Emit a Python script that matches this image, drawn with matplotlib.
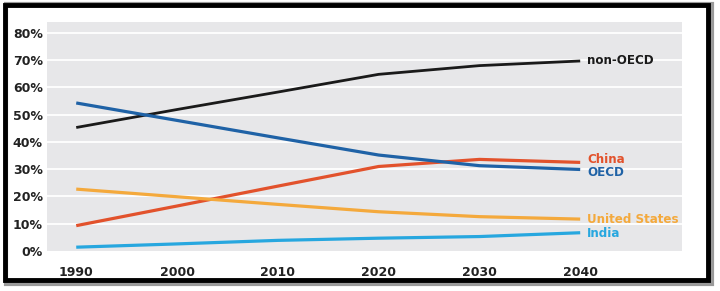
import matplotlib
matplotlib.use("Agg")
import matplotlib.pyplot as plt
from matplotlib.patches import Rectangle

# Share of global values
years = [1990, 2000, 2010, 2020, 2030, 2040]
non_oecd = [45.3, 51.9, 58.3, 64.8, 68.0, 69.7]
oecd = [54.3, 47.9, 41.5, 35.2, 31.3, 29.9]
china = [9.3, 16.5, 23.8, 31.0, 33.6, 32.5]
united_states = [22.7, 19.9, 17.1, 14.4, 12.6, 11.7]
india = [1.4, 2.6, 3.9, 4.7, 5.3, 6.7]

series_names = ["non-OECD", "China", "OECD", "United States", "India"]
series_values = [non_oecd, china, oecd, united_states, india]
series_colors = ["#1a1a1a", "#e2522c", "#1f62a6", "#f4a93c", "#27a7df"]
label_offsets = [0.3, 0.9, -1.1, 0.0, -0.1]

y_ticks = [0, 10, 20, 30, 40, 50, 60, 70, 80]
x_ticks = [1990, 2000, 2010, 2020, 2030, 2040]

fig = plt.figure(figsize=(7.2, 2.91), dpi=100)
fig.patch.set_facecolor("white")

# framed picture border with a soft shadow
fig.patches.append(Rectangle((6 / 720, 1 - 284 / 291), 706 / 720, 280 / 291,
                             transform=fig.transFigure, fill=False,
                             edgecolor="#9a9a9a", linewidth=3, zorder=0))
fig.patches.append(Rectangle((5 / 720, 1 - 280 / 291), 703 / 720, 275 / 291,
                             transform=fig.transFigure, fill=False,
                             edgecolor="black", linewidth=3.5, zorder=1))

ax = fig.add_axes([47 / 720, 40 / 291, 635 / 720, 229 / 291])
ax.set_facecolor("#e7e7e9")

for v in y_ticks[1:]:
    ax.axhline(v, color="white", linewidth=1.3, zorder=1)

for name, vals, col, off in zip(series_names, series_values, series_colors, label_offsets):
    lw = 2.0 if name == "non-OECD" else 2.3
    ax.plot(years, vals, color=col, linewidth=lw, solid_capstyle="butt", zorder=3)
    ax.text(years[-1] + 0.7, vals[-1] + off, name, color=col, fontsize=8.6,
            fontweight="bold", va="center", ha="left", zorder=4)

ax.set_xlim(1987.1, 2050.1)
ax.set_ylim(0, 84)
ax.set_xticks(x_ticks)
ax.set_xticklabels([str(x) for x in x_ticks])
ax.set_yticks(y_ticks)
ax.set_yticklabels([f"{v}%" for v in y_ticks])
ax.tick_params(axis="both", length=0, labelsize=9, colors="#222222")
ax.tick_params(axis="y", pad=3)
ax.tick_params(axis="x", pad=11)
for lbl in ax.get_xticklabels() + ax.get_yticklabels():
    lbl.set_fontweight("bold")
for s in ax.spines.values():
    s.set_visible(False)

fig.savefig("out.png", dpi=100, facecolor="white")
